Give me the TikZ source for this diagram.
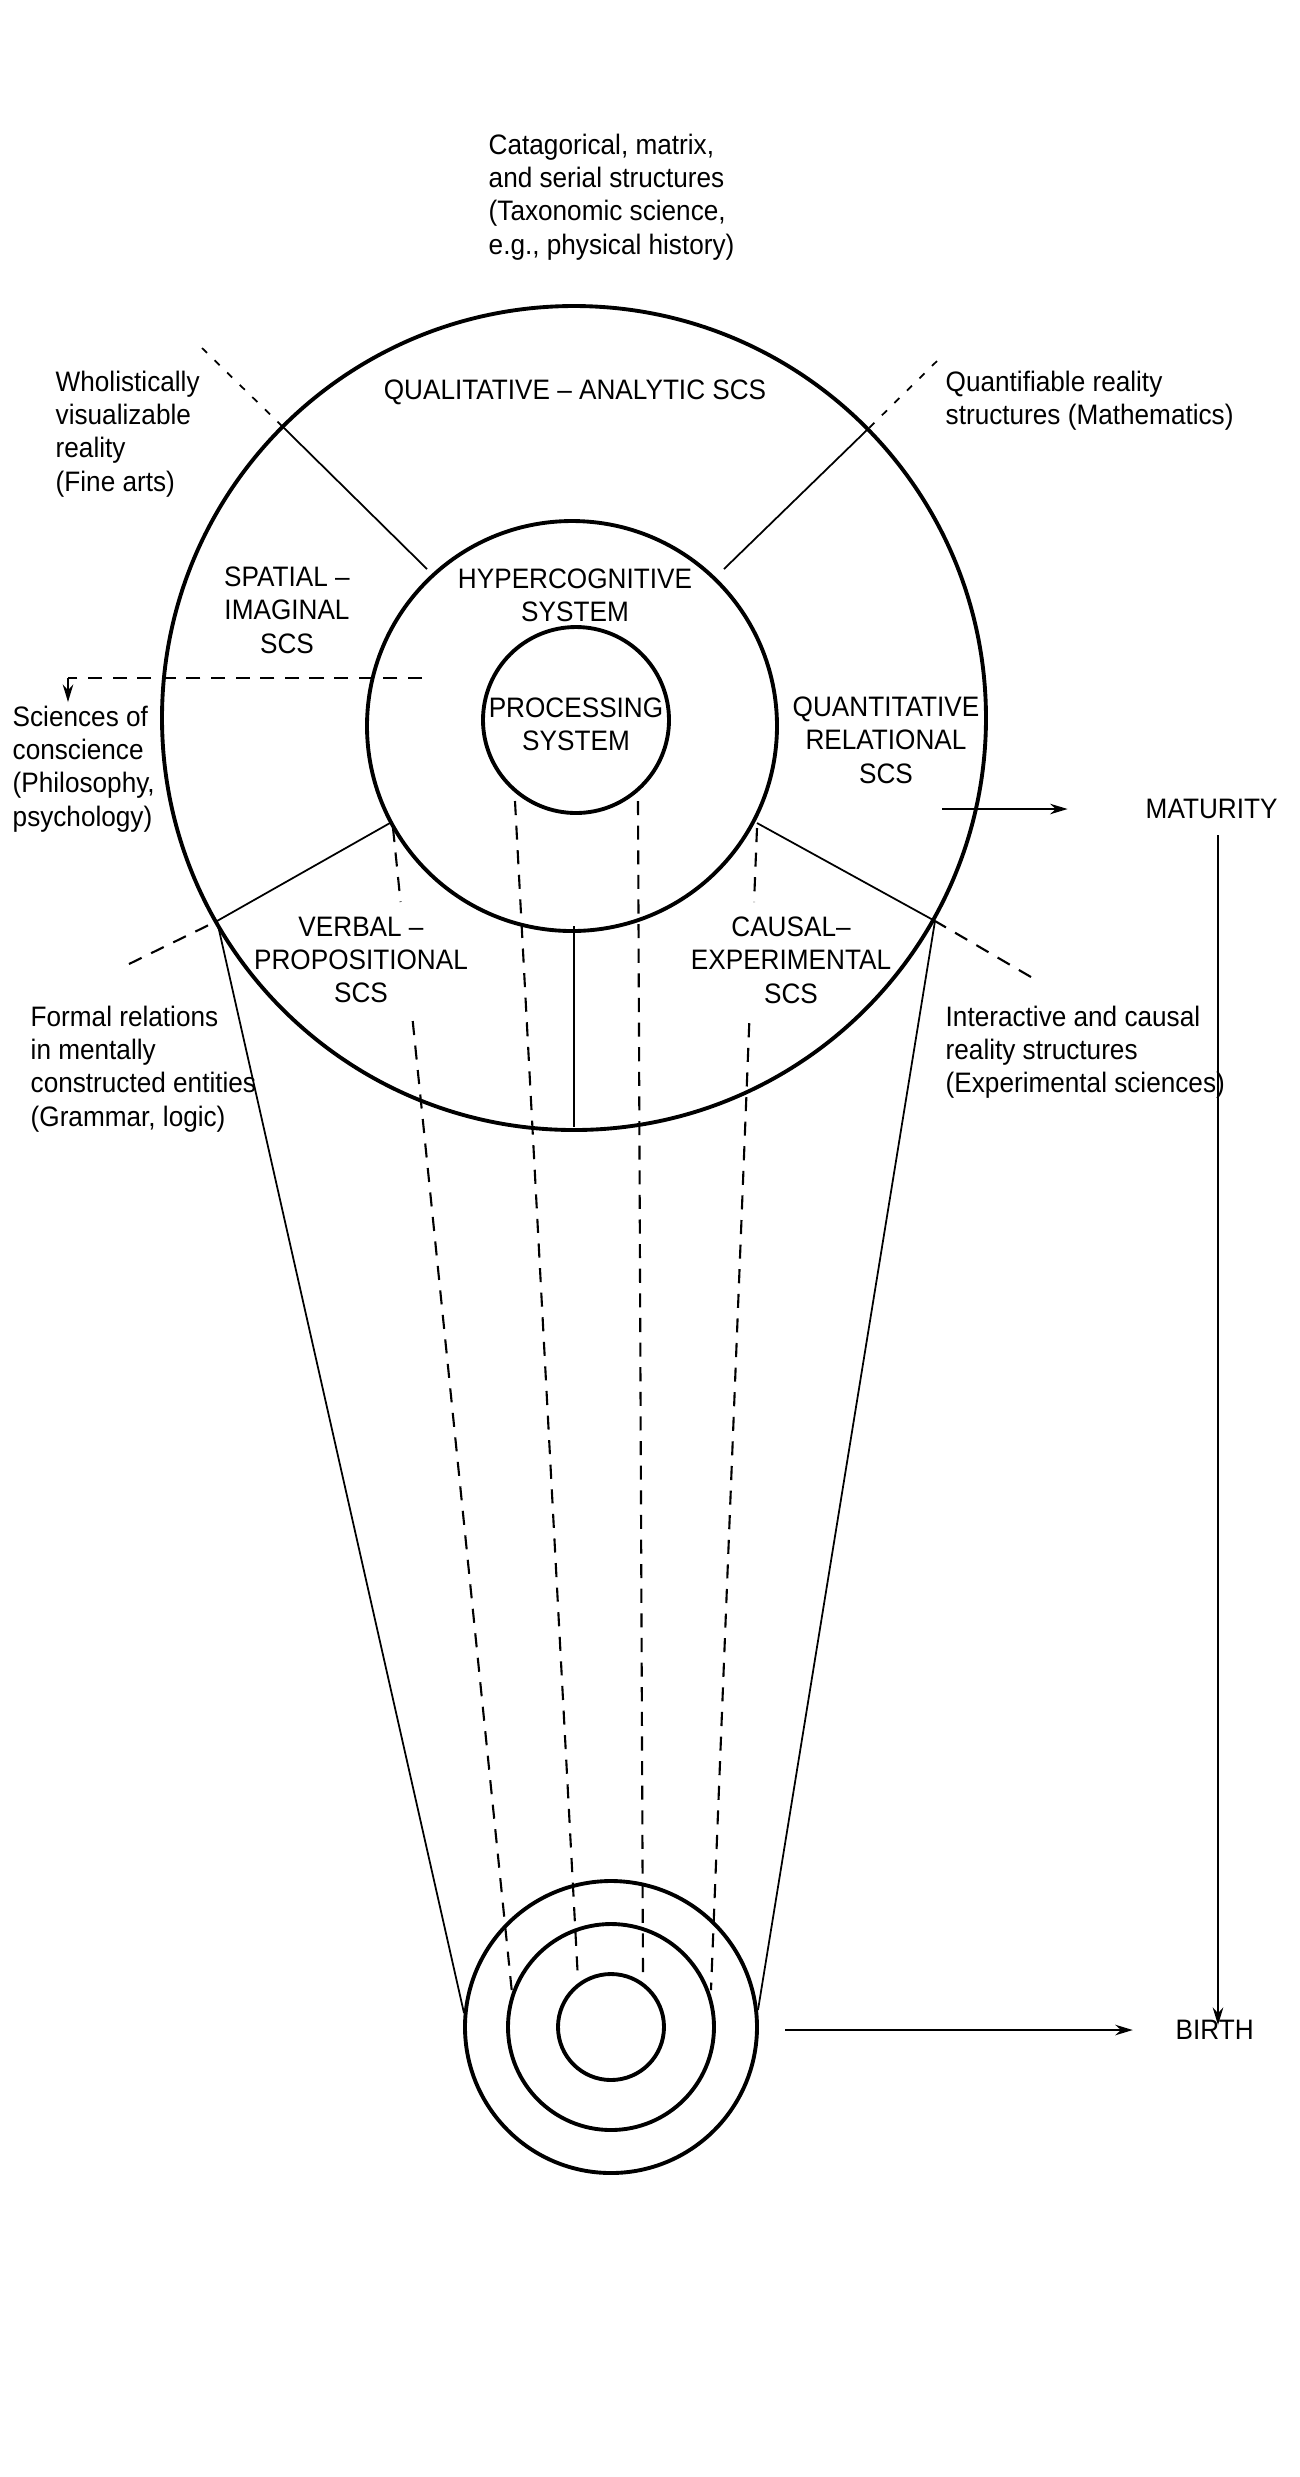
\documentclass[tikz,border=0pt]{standalone}
\usepackage{fontspec}
\setmainfont{Liberation Sans}[FakeStretch=0.93]
\usetikzlibrary{arrows.meta,calc}
\begin{document}
\begin{tikzpicture}[x=0.01cm,y=-0.01cm,
  ring/.style={draw,line width=1.1pt},
  thin/.style={draw,line width=0.5pt},
  dsh/.style={draw,line width=0.6pt,dash pattern=on 4pt off 3pt},
  fdsh/.style={draw,line width=0.5pt,dash pattern=on 2pt off 3pt},
  lbl/.style={font=\fontsize{8}{9.5}\selectfont,inner sep=0pt},
  arr/.style={draw,line width=0.5pt,-{Stealth[length=5pt,width=3pt]}}]
\useasboundingbox (0,0) rectangle (1299,2477);
% circles
\coordinate (C) at (574,718);
\coordinate (Cm) at (572,726);
\coordinate (Ci) at (576,720);
\coordinate (S) at (611,2027);
\draw[ring] (C) circle (412);
\draw[ring] (Cm) circle (205);
\draw[ring] (Ci) circle (93);
\draw[ring] (S) circle (146);
\draw[ring] (S) circle (103);
\draw[ring] (S) circle (53);
% sector lines
\coordinate (ul1) at (283,427); \coordinate (ul2) at (427,569); \coordinate (ul0) at (202,348);
\coordinate (ur1) at (868,429); \coordinate (ur2) at (724,569); \coordinate (ur0) at (937,361);
\coordinate (ll1) at (217,921); \coordinate (ll2) at (390,823); \coordinate (ll0) at (129,964);
\coordinate (lr1) at (935,921); \coordinate (lr2) at (757,823); \coordinate (lr0) at (1031,977);
\coordinate (vb1) at (574,926); \coordinate (vb2) at (574,1127);
\draw[thin] (ul1) -- (ul2); \draw[fdsh] (ul0) -- (ul1);
\draw[thin] (ur1) -- (ur2); \draw[fdsh] (ur0) -- (ur1);
\draw[thin] (ll1) -- (ll2); \draw[dsh] (ll0) -- (ll1);
\draw[thin] (lr1) -- (lr2); \draw[dsh] (lr0) -- (lr1);
\draw[thin] (vb1) -- (vb2);
% horizontal dashed with arrow
\coordinate (h1) at (422,678); \coordinate (h2) at (68,678); \coordinate (h3) at (68,702);
\draw[dsh] (h1) -- (h2);
\draw[thin,-{Stealth[length=5pt,width=3pt]}] (h2) -- (h3);
% tangents
\coordinate (tl) at (464,2013); \coordinate (tr) at (758,2010);
\draw[thin] (ll1) -- (tl);
\draw[thin] (lr1) -- (tr);
% dashed projections
\coordinate (d1a) at (393,828); \coordinate (d1b) at (512,1993);
\coordinate (d2a) at (515,801); \coordinate (d2b) at (578,1980);
\coordinate (d3a) at (638,801); \coordinate (d3b) at (643,1973);
\coordinate (d4a) at (757,828); \coordinate (d4b) at (711,1990);
\draw[dsh] (d1a) -- ($(d1a)!0.0635!(d1b)$);
\draw[dsh] ($(d1a)!0.1657!(d1b)$) -- (d1b);
\draw[dsh] (d2a) -- (d2b);
\draw[dsh] (d3a) -- (d3b);
\draw[dsh] (d4a) -- ($(d4a)!0.0637!(d4b)$);
\draw[dsh] ($(d4a)!0.168!(d4b)$) -- (d4b);
% inner labels
\node[lbl,align=center] (vp) at (361,960) {VERBAL –\\PROPOSITIONAL\\SCS};
\node[lbl,align=center] (ce) at (791,960) {CAUSAL–\\EXPERIMENTAL\\SCS};
\node[lbl,align=center] (qa) at (575,392) {QUALITATIVE – ANALYTIC SCS};
\node[lbl,align=center] (si) at (287,610) {SPATIAL –\\IMAGINAL\\SCS};
\node[lbl,align=center] (hc) at (575,595) {HYPERCOGNITIVE\\SYSTEM};
\node[lbl,align=center] (ps) at (576,724) {PROCESSING\\SYSTEM};
\node[lbl,align=center] (qr) at (886,740) {QUANTITATIVE\\RELATIONAL\\SCS};
% outside labels
\node[lbl,align=left,anchor=north west] (tt) at (488,133) {Catagorical, matrix,\\and serial structures\\(Taxonomic science,\\e.g., physical history)};
\node[lbl,align=left,anchor=north west] (wh) at (55,370) {Wholistically\\visualizable\\reality\\(Fine arts)};
\node[lbl,align=left,anchor=north west] (sc) at (12,705) {Sciences of\\conscience\\(Philosophy,\\psychology)};
\node[lbl,align=left,anchor=north west] (fr) at (30,1005) {Formal relations\\in mentally\\constructed entities\\(Grammar, logic)};
\node[lbl,align=left,anchor=north west] (qf) at (945,370) {Quantifiable reality\\structures (Mathematics)};
\node[lbl,align=left,anchor=north west] (ic) at (945,1005) {Interactive and causal\\reality structures\\(Experimental sciences)};
% maturity / birth
\node[lbl,anchor=west] (mat) at (1145,809) {MATURITY};
\node[lbl,anchor=west] (bir) at (1175,2030) {BIRTH};
\coordinate (m0) at (942,809);
\draw[arr] (m0) -- ([xshift=-22]mat.west);
\coordinate (b0) at (785,2030);
\draw[arr] (b0) -- ([xshift=-12]bir.west);
\coordinate (v0) at (1218,835); \coordinate (v1) at (1218,2025);
\draw[arr] (v0) -- (v1);
\end{tikzpicture}
\end{document}
